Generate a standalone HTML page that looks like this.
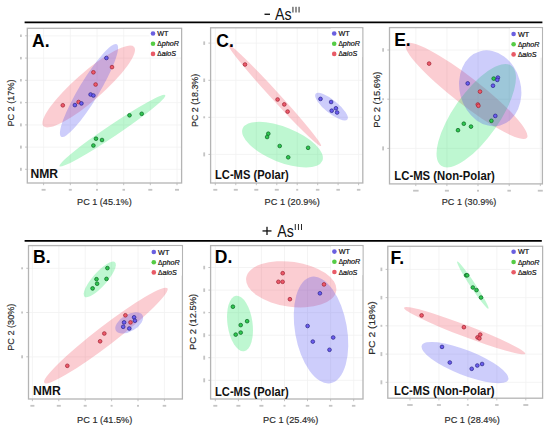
<!DOCTYPE html>
<html><head><meta charset="utf-8"><style>
html,body{margin:0;padding:0;background:#fff;width:550px;height:431px;overflow:hidden}
svg{display:block}
text{font-family:"Liberation Sans",sans-serif}
.lab{font-weight:bold;font-size:17.5px;fill:#000}
.foot{font-weight:bold;font-size:11.9px;fill:#111}
.leg{font-size:7.2px;fill:#111;stroke:#111;stroke-width:0.2px}
.ax{font-size:9.9px;fill:#2a2a2a;stroke:#2a2a2a;stroke-width:0.18px}
.hd{font-size:16.2px;fill:#111}
.sup{font-size:8px}
</style></head><body>
<svg width="550" height="431" viewBox="0 0 550 431">
<path d="M24.6 22.35H542.4M24.6 240.9H541.8" stroke="#000" stroke-width="1.65" fill="none"/>
<rect x="264.5" y="13.6" width="5.5" height="1.35" fill="#111"/>
<text x="275.0" y="19.7" class="hd" textLength="16.6" lengthAdjust="spacingAndGlyphs">As</text>
<rect x="292.50" y="6.8" width="0.9" height="5.70" fill="#111"/><rect x="295.55" y="6.8" width="0.9" height="5.70" fill="#111"/><rect x="298.60" y="6.8" width="0.9" height="5.70" fill="#111"/>
<rect x="262.5" y="230.3" width="9" height="1.3" fill="#111"/><rect x="266.35" y="226.8" width="1.3" height="8.2" fill="#111"/>
<text x="277.2" y="236.7" class="hd" textLength="16.6" lengthAdjust="spacingAndGlyphs">As</text>
<rect x="294.80" y="224" width="0.9" height="6.00" fill="#111"/><rect x="297.95" y="224" width="0.9" height="6.00" fill="#111"/><rect x="301.10" y="224" width="0.9" height="6.00" fill="#111"/>
<clipPath id="clipA"><rect x="27.3" y="28.3" width="154.30" height="154.70"/></clipPath>
<rect x="27.3" y="28.3" width="154.30" height="154.70" fill="#fff"/>
<path d="M43.6 28.3V183.0M70.3 28.3V183.0M97.0 28.3V183.0M123.7 28.3V183.0M150.3 28.3V183.0M177.0 28.3V183.0M27.3 35.8H181.6M27.3 58.1H181.6M27.3 80.3H181.6M27.3 102.6H181.6M27.3 124.9H181.6M27.3 147.1H181.6M27.3 169.3H181.6" stroke="#f1f1f1" stroke-width="0.8" fill="none"/>
<path d="M43.6 183.0v2.2M70.3 183.0v2.2M97.0 183.0v2.2M123.7 183.0v2.2M150.3 183.0v2.2M177.0 183.0v2.2M27.3 35.8h-2.2M27.3 58.1h-2.2M27.3 80.3h-2.2M27.3 102.6h-2.2M27.3 124.9h-2.2M27.3 147.1h-2.2M27.3 169.3h-2.2" stroke="#999" stroke-width="0.6" fill="none"/>
<rect x="41.6" y="188.9" width="4" height="1.8" fill="#c4c4c4"/>
<rect x="68.8" y="188.9" width="3" height="1.8" fill="#c4c4c4"/>
<rect x="96.0" y="188.9" width="2" height="1.8" fill="#c4c4c4"/>
<rect x="122.5" y="188.9" width="2.5" height="1.8" fill="#c4c4c4"/>
<rect x="148.3" y="188.9" width="4" height="1.8" fill="#c4c4c4"/>
<rect x="175.0" y="188.9" width="4" height="1.8" fill="#c4c4c4"/>
<rect x="20.0" y="34.5" width="1.8" height="2.5" fill="#c4c4c4"/>
<rect x="20.0" y="56.9" width="1.8" height="2.5" fill="#c4c4c4"/>
<rect x="20.0" y="79.0" width="1.8" height="2.5" fill="#c4c4c4"/>
<rect x="20.0" y="101.6" width="1.8" height="2" fill="#c4c4c4"/>
<rect x="20.0" y="123.4" width="1.8" height="3" fill="#c4c4c4"/>
<rect x="20.0" y="145.6" width="1.8" height="3" fill="#c4c4c4"/>
<rect x="20.0" y="167.8" width="1.8" height="3" fill="#c4c4c4"/>
<g clip-path="url(#clipA)">
<ellipse cx="88.7" cy="86.5" rx="60.2" ry="14" transform="rotate(-41.1 88.7 86.5)" fill="rgb(240,60,80)" fill-opacity="0.26"/>
<ellipse cx="112.4" cy="130.7" rx="63.7" ry="5.8" transform="rotate(-33.9 112.4 130.7)" fill="rgb(20,228,88)" fill-opacity="0.28"/>
<ellipse cx="89" cy="90.5" rx="54" ry="10" transform="rotate(-59 89 90.5)" fill="rgb(60,60,240)" fill-opacity="0.26"/>
<circle cx="106.4" cy="58.0" r="1.85" fill="#6b5cf0" stroke="#2d2a8a" stroke-width="0.75"/>
<circle cx="112.0" cy="67.1" r="1.85" fill="#ee5a6a" stroke="#a02838" stroke-width="0.75"/>
<circle cx="93.4" cy="72.3" r="1.85" fill="#ee5a6a" stroke="#a02838" stroke-width="0.75"/>
<circle cx="95.6" cy="84.5" r="1.85" fill="#ee5a6a" stroke="#a02838" stroke-width="0.75"/>
<circle cx="90.6" cy="94.5" r="1.85" fill="#6b5cf0" stroke="#2d2a8a" stroke-width="0.75"/>
<circle cx="93.4" cy="95.5" r="1.85" fill="#6b5cf0" stroke="#2d2a8a" stroke-width="0.75"/>
<circle cx="78.6" cy="102" r="1.85" fill="#ee5a6a" stroke="#a02838" stroke-width="0.75"/>
<circle cx="81.4" cy="103.4" r="1.85" fill="#6b5cf0" stroke="#2d2a8a" stroke-width="0.75"/>
<circle cx="74.9" cy="105.1" r="1.85" fill="#6b5cf0" stroke="#2d2a8a" stroke-width="0.75"/>
<circle cx="62.8" cy="105.3" r="1.85" fill="#ee5a6a" stroke="#a02838" stroke-width="0.75"/>
<circle cx="129.5" cy="115.3" r="1.85" fill="#2ec850" stroke="#106a28" stroke-width="0.75"/>
<circle cx="141.7" cy="113.8" r="1.85" fill="#2ec850" stroke="#106a28" stroke-width="0.75"/>
<circle cx="96.0" cy="138.7" r="1.85" fill="#2ec850" stroke="#106a28" stroke-width="0.75"/>
<circle cx="102.0" cy="140.0" r="1.85" fill="#2ec850" stroke="#106a28" stroke-width="0.75"/>
<circle cx="93.4" cy="145.5" r="1.85" fill="#2ec850" stroke="#106a28" stroke-width="0.75"/>
</g>
<rect x="27.3" y="28.3" width="154.30" height="154.70" fill="none" stroke="#b4b4b4" stroke-width="1.3"/>
<text x="32.0" y="47.3" class="lab">A.</text>
<text x="30.4" y="178.3" class="foot" textLength="27.6" lengthAdjust="spacingAndGlyphs">NMR</text>
<rect x="149.5" y="28.9" width="31.5" height="28.2" fill="#fff"/>
<circle cx="153.0" cy="33.5" r="2.3" fill="#6a5fe0"/>
<text x="157.3" y="36.0" class="leg">WT</text>
<circle cx="153.0" cy="43.7" r="2.3" fill="#55cc44"/>
<text x="157.3" y="46.2" class="leg"><tspan font-size="6.5">&#916;</tspan><tspan font-style="italic">phoR</tspan></text>
<circle cx="153.0" cy="53.9" r="2.3" fill="#e85a66"/>
<text x="157.3" y="56.4" class="leg"><tspan font-size="6.5">&#916;</tspan><tspan font-style="italic">aioS</tspan></text>
<text x="77.10000000000001" y="205.3" class="ax" textLength="54.6" lengthAdjust="spacingAndGlyphs">PC 1 (45.1%)</text>
<text transform="translate(13.7 126.6) rotate(-90)" class="ax" textLength="47.2" lengthAdjust="spacingAndGlyphs">PC 2 (17%)</text>
<clipPath id="clipC"><rect x="210.6" y="27.8" width="152.20" height="155.20"/></clipPath>
<rect x="210.6" y="27.8" width="152.20" height="155.20" fill="#fff"/>
<path d="M215.3 27.8V183.0M235.8 27.8V183.0M256.3 27.8V183.0M276.8 27.8V183.0M297.2 27.8V183.0M317.7 27.8V183.0M338.1 27.8V183.0M358.6 27.8V183.0M210.6 43.1H362.8M210.6 80.3H362.8M210.6 117.3H362.8M210.6 154.4H362.8" stroke="#f1f1f1" stroke-width="0.8" fill="none"/>
<path d="M215.3 183.0v2.2M235.8 183.0v2.2M256.3 183.0v2.2M276.8 183.0v2.2M297.2 183.0v2.2M317.7 183.0v2.2M338.1 183.0v2.2M358.6 183.0v2.2M210.6 43.1h-2.2M210.6 80.3h-2.2M210.6 117.3h-2.2M210.6 154.4h-2.2" stroke="#999" stroke-width="0.6" fill="none"/>
<rect x="213.3" y="188.9" width="4" height="1.8" fill="#c4c4c4"/>
<rect x="233.8" y="188.9" width="4" height="1.8" fill="#c4c4c4"/>
<rect x="254.3" y="188.9" width="4" height="1.8" fill="#c4c4c4"/>
<rect x="274.8" y="188.9" width="4" height="1.8" fill="#c4c4c4"/>
<rect x="296.2" y="188.9" width="2" height="1.8" fill="#c4c4c4"/>
<rect x="315.9" y="188.9" width="3.5" height="1.8" fill="#c4c4c4"/>
<rect x="336.4" y="188.9" width="3.5" height="1.8" fill="#c4c4c4"/>
<rect x="356.9" y="188.9" width="3.5" height="1.8" fill="#c4c4c4"/>
<rect x="203.3" y="41.4" width="1.8" height="3.5" fill="#c4c4c4"/>
<rect x="203.3" y="78.5" width="1.8" height="3.5" fill="#c4c4c4"/>
<rect x="203.3" y="116.3" width="1.8" height="2" fill="#c4c4c4"/>
<rect x="203.3" y="152.4" width="1.8" height="4" fill="#c4c4c4"/>
<g clip-path="url(#clipC)">
<ellipse cx="274.75" cy="95.5" rx="68.5" ry="4.2" transform="rotate(47.5 274.75 95.5)" fill="rgb(240,60,80)" fill-opacity="0.26"/>
<ellipse cx="282.5" cy="144.7" rx="43" ry="17.5" transform="rotate(22 282.5 144.7)" fill="rgb(20,228,88)" fill-opacity="0.28"/>
<ellipse cx="331.5" cy="106.7" rx="20.4" ry="6.5" transform="rotate(39 331.5 106.7)" fill="rgb(60,60,240)" fill-opacity="0.26"/>
<circle cx="245.0" cy="64.5" r="1.85" fill="#ee5a6a" stroke="#a02838" stroke-width="0.75"/>
<circle cx="277.6" cy="99.5" r="1.85" fill="#ee5a6a" stroke="#a02838" stroke-width="0.75"/>
<circle cx="284.3" cy="104.4" r="1.85" fill="#ee5a6a" stroke="#a02838" stroke-width="0.75"/>
<circle cx="287.6" cy="111.6" r="1.85" fill="#ee5a6a" stroke="#a02838" stroke-width="0.75"/>
<circle cx="320.5" cy="98.9" r="1.85" fill="#6b5cf0" stroke="#2d2a8a" stroke-width="0.75"/>
<circle cx="331.1" cy="102" r="1.85" fill="#6b5cf0" stroke="#2d2a8a" stroke-width="0.75"/>
<circle cx="335.9" cy="108.3" r="1.85" fill="#6b5cf0" stroke="#2d2a8a" stroke-width="0.75"/>
<circle cx="331.7" cy="110.7" r="1.85" fill="#6b5cf0" stroke="#2d2a8a" stroke-width="0.75"/>
<circle cx="337.1" cy="112.5" r="1.85" fill="#6b5cf0" stroke="#2d2a8a" stroke-width="0.75"/>
<circle cx="268.3" cy="133.7" r="1.85" fill="#2ec850" stroke="#106a28" stroke-width="0.75"/>
<circle cx="267.1" cy="137" r="1.85" fill="#2ec850" stroke="#106a28" stroke-width="0.75"/>
<circle cx="279.7" cy="146" r="1.85" fill="#2ec850" stroke="#106a28" stroke-width="0.75"/>
<circle cx="308.1" cy="147.8" r="1.85" fill="#2ec850" stroke="#106a28" stroke-width="0.75"/>
<circle cx="288.2" cy="157.3" r="1.85" fill="#2ec850" stroke="#106a28" stroke-width="0.75"/>
</g>
<rect x="210.6" y="27.8" width="152.20" height="155.20" fill="none" stroke="#b4b4b4" stroke-width="1.3"/>
<text x="216.3" y="46.9" class="lab">C.</text>
<text x="215.0" y="178.8" class="foot" textLength="73.8" lengthAdjust="spacingAndGlyphs">LC-MS (Polar)</text>
<rect x="330.7" y="28.4" width="31.5" height="28.7" fill="#fff"/>
<circle cx="334.2" cy="33.5" r="2.3" fill="#6a5fe0"/>
<text x="338.5" y="36.0" class="leg">WT</text>
<circle cx="334.2" cy="43.7" r="2.3" fill="#55cc44"/>
<text x="338.5" y="46.2" class="leg"><tspan font-size="6.5">&#916;</tspan><tspan font-style="italic">phoR</tspan></text>
<circle cx="334.2" cy="53.9" r="2.3" fill="#e85a66"/>
<text x="338.5" y="56.4" class="leg"><tspan font-size="6.5">&#916;</tspan><tspan font-style="italic">aioS</tspan></text>
<text x="264.59999999999997" y="205.3" class="ax" textLength="55.1" lengthAdjust="spacingAndGlyphs">PC 1 (20.9%)</text>
<text transform="translate(197.5 127.0) rotate(-90)" class="ax" textLength="53.2" lengthAdjust="spacingAndGlyphs">PC 2 (18.3%)</text>
<clipPath id="clipE"><rect x="389.5" y="27.6" width="152.90" height="156.30"/></clipPath>
<rect x="389.5" y="27.6" width="152.90" height="156.30" fill="#fff"/>
<path d="M415.8 27.6V183.9M446.9 27.6V183.9M478.0 27.6V183.9M509.2 27.6V183.9M540.3 27.6V183.9M389.5 50.0H542.4M389.5 99.2H542.4M389.5 148.4H542.4" stroke="#f1f1f1" stroke-width="0.8" fill="none"/>
<path d="M415.8 183.9v2.2M446.9 183.9v2.2M478.0 183.9v2.2M509.2 183.9v2.2M540.3 183.9v2.2M389.5 50.0h-2.2M389.5 99.2h-2.2M389.5 148.4h-2.2" stroke="#999" stroke-width="0.6" fill="none"/>
<rect x="413.1" y="189.8" width="5.5" height="1.8" fill="#c4c4c4"/>
<rect x="444.9" y="189.8" width="4" height="1.8" fill="#c4c4c4"/>
<rect x="477.0" y="189.8" width="2" height="1.8" fill="#c4c4c4"/>
<rect x="507.4" y="189.8" width="3.5" height="1.8" fill="#c4c4c4"/>
<rect x="537.8" y="189.8" width="5" height="1.8" fill="#c4c4c4"/>
<rect x="382.2" y="48.2" width="1.8" height="3.5" fill="#c4c4c4"/>
<rect x="382.2" y="98.2" width="1.8" height="2" fill="#c4c4c4"/>
<rect x="382.2" y="146.4" width="1.8" height="4" fill="#c4c4c4"/>
<g clip-path="url(#clipE)">
<ellipse cx="466.5" cy="90.9" rx="76.5" ry="13.5" transform="rotate(37.8 466.5 90.9)" fill="rgb(240,60,80)" fill-opacity="0.26"/>
<ellipse cx="476.25" cy="115.7" rx="22.8" ry="61.1" transform="rotate(35 476.25 115.7)" fill="rgb(20,228,88)" fill-opacity="0.28"/>
<ellipse cx="490.2" cy="88.3" rx="30.6" ry="38.4" transform="rotate(-15 490.2 88.3)" fill="rgb(60,60,240)" fill-opacity="0.26"/>
<circle cx="429.1" cy="63.6" r="1.85" fill="#ee5a6a" stroke="#a02838" stroke-width="0.75"/>
<circle cx="467.7" cy="83.4" r="1.85" fill="#6b5cf0" stroke="#2d2a8a" stroke-width="0.75"/>
<circle cx="493.7" cy="78.6" r="1.85" fill="#2ec850" stroke="#106a28" stroke-width="0.75"/>
<circle cx="497.9" cy="77.6" r="1.85" fill="#6b5cf0" stroke="#2d2a8a" stroke-width="0.75"/>
<circle cx="497.3" cy="79.9" r="1.85" fill="#6b5cf0" stroke="#2d2a8a" stroke-width="0.75"/>
<circle cx="493" cy="85.7" r="1.85" fill="#6b5cf0" stroke="#2d2a8a" stroke-width="0.75"/>
<circle cx="480" cy="91.6" r="1.85" fill="#ee5a6a" stroke="#a02838" stroke-width="0.75"/>
<circle cx="477.8" cy="104.5" r="1.85" fill="#ee5a6a" stroke="#a02838" stroke-width="0.75"/>
<circle cx="478.4" cy="105.8" r="1.85" fill="#ee5a6a" stroke="#a02838" stroke-width="0.75"/>
<circle cx="495.3" cy="115.9" r="1.85" fill="#6b5cf0" stroke="#2d2a8a" stroke-width="0.75"/>
<circle cx="491.4" cy="120.8" r="1.85" fill="#2ec850" stroke="#106a28" stroke-width="0.75"/>
<circle cx="463.8" cy="123.7" r="1.85" fill="#2ec850" stroke="#106a28" stroke-width="0.75"/>
<circle cx="471" cy="126.6" r="1.85" fill="#2ec850" stroke="#106a28" stroke-width="0.75"/>
<circle cx="458" cy="130.2" r="1.85" fill="#2ec850" stroke="#106a28" stroke-width="0.75"/>
</g>
<rect x="389.5" y="27.6" width="152.90" height="156.30" fill="none" stroke="#b4b4b4" stroke-width="1.3"/>
<text x="394.2" y="45.6" class="lab">E.</text>
<text x="394.3" y="179.6" class="foot" textLength="100.6" lengthAdjust="spacingAndGlyphs">LC-MS (Non-Polar)</text>
<rect x="510.1" y="28.2" width="31.7" height="29.4" fill="#fff"/>
<circle cx="513.6" cy="34.0" r="2.3" fill="#6a5fe0"/>
<text x="517.9" y="36.5" class="leg">WT</text>
<circle cx="513.6" cy="44.2" r="2.3" fill="#55cc44"/>
<text x="517.9" y="46.7" class="leg"><tspan font-size="6.5">&#916;</tspan><tspan font-style="italic">phoR</tspan></text>
<circle cx="513.6" cy="54.4" r="2.3" fill="#e85a66"/>
<text x="517.9" y="56.9" class="leg"><tspan font-size="6.5">&#916;</tspan><tspan font-style="italic">aioS</tspan></text>
<text x="441.8" y="205.3" class="ax" textLength="54.6" lengthAdjust="spacingAndGlyphs">PC 1 (30.9%)</text>
<text transform="translate(379.7 127.8) rotate(-90)" class="ax" textLength="56.2" lengthAdjust="spacingAndGlyphs">PC 2 (15.6%)</text>
<clipPath id="clipB"><rect x="28.5" y="245.6" width="153.90" height="153.40"/></clipPath>
<rect x="28.5" y="245.6" width="153.90" height="153.40" fill="#fff"/>
<path d="M32.4 245.6V399.0M58.8 245.6V399.0M85.2 245.6V399.0M111.6 245.6V399.0M138.0 245.6V399.0M164.4 245.6V399.0M28.5 268.3H182.4M28.5 312.5H182.4M28.5 356.8H182.4" stroke="#f1f1f1" stroke-width="0.8" fill="none"/>
<path d="M32.4 399.0v2.2M58.8 399.0v2.2M85.2 399.0v2.2M111.6 399.0v2.2M138.0 399.0v2.2M164.4 399.0v2.2M28.5 268.3h-2.2M28.5 312.5h-2.2M28.5 356.8h-2.2" stroke="#999" stroke-width="0.6" fill="none"/>
<rect x="30.4" y="404.9" width="4" height="1.8" fill="#c4c4c4"/>
<rect x="56.8" y="404.9" width="4" height="1.8" fill="#c4c4c4"/>
<rect x="83.7" y="404.9" width="3" height="1.8" fill="#c4c4c4"/>
<rect x="110.6" y="404.9" width="2" height="1.8" fill="#c4c4c4"/>
<rect x="137.0" y="404.9" width="2" height="1.8" fill="#c4c4c4"/>
<rect x="162.7" y="404.9" width="3.5" height="1.8" fill="#c4c4c4"/>
<rect x="21.2" y="267.3" width="1.8" height="2" fill="#c4c4c4"/>
<rect x="21.2" y="311.5" width="1.8" height="2" fill="#c4c4c4"/>
<rect x="21.2" y="355.3" width="1.8" height="3" fill="#c4c4c4"/>
<g clip-path="url(#clipB)">
<ellipse cx="99.8" cy="279.4" rx="23" ry="7" transform="rotate(-48.6 99.8 279.4)" fill="rgb(20,228,88)" fill-opacity="0.28"/>
<ellipse cx="105.9" cy="335.6" rx="77.6" ry="9.5" transform="rotate(-37.5 105.9 335.6)" fill="rgb(240,60,80)" fill-opacity="0.26"/>
<ellipse cx="129.2" cy="322.9" rx="15.4" ry="8.4" transform="rotate(-31 129.2 322.9)" fill="rgb(60,60,240)" fill-opacity="0.26"/>
<circle cx="107.4" cy="268.1" r="1.85" fill="#2ec850" stroke="#106a28" stroke-width="0.75"/>
<circle cx="96.5" cy="279.2" r="1.85" fill="#2ec850" stroke="#106a28" stroke-width="0.75"/>
<circle cx="106.5" cy="278.9" r="1.85" fill="#2ec850" stroke="#106a28" stroke-width="0.75"/>
<circle cx="97.1" cy="283.7" r="1.85" fill="#2ec850" stroke="#106a28" stroke-width="0.75"/>
<circle cx="92.6" cy="288.4" r="1.85" fill="#2ec850" stroke="#106a28" stroke-width="0.75"/>
<circle cx="134.1" cy="317.3" r="1.85" fill="#6b5cf0" stroke="#2d2a8a" stroke-width="0.75"/>
<circle cx="134.9" cy="320.7" r="1.85" fill="#6b5cf0" stroke="#2d2a8a" stroke-width="0.75"/>
<circle cx="124.1" cy="322.4" r="1.85" fill="#6b5cf0" stroke="#2d2a8a" stroke-width="0.75"/>
<circle cx="123.2" cy="326.8" r="1.85" fill="#6b5cf0" stroke="#2d2a8a" stroke-width="0.75"/>
<circle cx="129.3" cy="328.5" r="1.85" fill="#6b5cf0" stroke="#2d2a8a" stroke-width="0.75"/>
<circle cx="125.4" cy="315.3" r="1.85" fill="#ee5a6a" stroke="#a02838" stroke-width="0.75"/>
<circle cx="130.5" cy="322.4" r="1.85" fill="#ee5a6a" stroke="#a02838" stroke-width="0.75"/>
<circle cx="104.3" cy="333.5" r="1.85" fill="#ee5a6a" stroke="#a02838" stroke-width="0.75"/>
<circle cx="100.1" cy="341.3" r="1.85" fill="#ee5a6a" stroke="#a02838" stroke-width="0.75"/>
<circle cx="67.3" cy="365.8" r="1.85" fill="#ee5a6a" stroke="#a02838" stroke-width="0.75"/>
</g>
<rect x="28.5" y="245.6" width="153.90" height="153.40" fill="none" stroke="#b4b4b4" stroke-width="1.3"/>
<text x="33.1" y="263.4" class="lab">B.</text>
<text x="33.0" y="394.6" class="foot" textLength="27.8" lengthAdjust="spacingAndGlyphs">NMR</text>
<rect x="150.3" y="246.2" width="31.5" height="29.4" fill="#fff"/>
<circle cx="153.8" cy="252.0" r="2.3" fill="#6a5fe0"/>
<text x="158.10000000000002" y="254.5" class="leg">WT</text>
<circle cx="153.8" cy="262.2" r="2.3" fill="#55cc44"/>
<text x="158.10000000000002" y="264.7" class="leg"><tspan font-size="6.5">&#916;</tspan><tspan font-style="italic">phoR</tspan></text>
<circle cx="153.8" cy="272.4" r="2.3" fill="#e85a66"/>
<text x="158.10000000000002" y="274.9" class="leg"><tspan font-size="6.5">&#916;</tspan><tspan font-style="italic">aioS</tspan></text>
<text x="77.0" y="423.0" class="ax" textLength="55.4" lengthAdjust="spacingAndGlyphs">PC 1 (41.5%)</text>
<text transform="translate(13.7 350.8) rotate(-90)" class="ax" textLength="47.2" lengthAdjust="spacingAndGlyphs">PC 2 (30%)</text>
<clipPath id="clipD"><rect x="210.6" y="245.6" width="152.40" height="153.40"/></clipPath>
<rect x="210.6" y="245.6" width="152.40" height="153.40" fill="#fff"/>
<path d="M215.3 245.6V399.0M238.4 245.6V399.0M261.4 245.6V399.0M284.5 245.6V399.0M307.5 245.6V399.0M330.6 245.6V399.0M353.7 245.6V399.0M210.6 267.5H363.0M210.6 290.1H363.0M210.6 312.6H363.0M210.6 335.2H363.0M210.6 357.7H363.0M210.6 380.3H363.0" stroke="#f1f1f1" stroke-width="0.8" fill="none"/>
<path d="M215.3 399.0v2.2M238.4 399.0v2.2M261.4 399.0v2.2M284.5 399.0v2.2M307.5 399.0v2.2M330.6 399.0v2.2M353.7 399.0v2.2M210.6 267.5h-2.2M210.6 290.1h-2.2M210.6 312.6h-2.2M210.6 335.2h-2.2M210.6 357.7h-2.2M210.6 380.3h-2.2" stroke="#999" stroke-width="0.6" fill="none"/>
<rect x="213.3" y="404.9" width="4" height="1.8" fill="#c4c4c4"/>
<rect x="236.4" y="404.9" width="4" height="1.8" fill="#c4c4c4"/>
<rect x="259.4" y="404.9" width="4" height="1.8" fill="#c4c4c4"/>
<rect x="283.5" y="404.9" width="2" height="1.8" fill="#c4c4c4"/>
<rect x="305.8" y="404.9" width="3.5" height="1.8" fill="#c4c4c4"/>
<rect x="328.9" y="404.9" width="3.5" height="1.8" fill="#c4c4c4"/>
<rect x="351.9" y="404.9" width="3.5" height="1.8" fill="#c4c4c4"/>
<rect x="203.3" y="265.8" width="1.8" height="3.5" fill="#c4c4c4"/>
<rect x="203.3" y="288.4" width="1.8" height="3.5" fill="#c4c4c4"/>
<rect x="203.3" y="311.6" width="1.8" height="2" fill="#c4c4c4"/>
<rect x="203.3" y="333.2" width="1.8" height="4" fill="#c4c4c4"/>
<rect x="203.3" y="355.7" width="1.8" height="4" fill="#c4c4c4"/>
<rect x="203.3" y="378.3" width="1.8" height="4" fill="#c4c4c4"/>
<g clip-path="url(#clipD)">
<ellipse cx="291.2" cy="284.3" rx="45.5" ry="22.5" transform="rotate(8 291.2 284.3)" fill="rgb(240,60,80)" fill-opacity="0.26"/>
<ellipse cx="240" cy="323.5" rx="12.5" ry="28" transform="rotate(-8 240 323.5)" fill="rgb(20,228,88)" fill-opacity="0.28"/>
<ellipse cx="321" cy="330" rx="26" ry="54" transform="rotate(-10 321 330)" fill="rgb(60,60,240)" fill-opacity="0.26"/>
<circle cx="282.7" cy="273.2" r="1.85" fill="#ee5a6a" stroke="#a02838" stroke-width="0.75"/>
<circle cx="278.4" cy="281.8" r="1.85" fill="#ee5a6a" stroke="#a02838" stroke-width="0.75"/>
<circle cx="282.6" cy="281.8" r="1.85" fill="#ee5a6a" stroke="#a02838" stroke-width="0.75"/>
<circle cx="289.9" cy="299.2" r="1.85" fill="#ee5a6a" stroke="#a02838" stroke-width="0.75"/>
<circle cx="324" cy="284.4" r="1.85" fill="#ee5a6a" stroke="#a02838" stroke-width="0.75"/>
<circle cx="319.9" cy="293.3" r="1.85" fill="#6b5cf0" stroke="#2d2a8a" stroke-width="0.75"/>
<circle cx="307.6" cy="326" r="1.85" fill="#6b5cf0" stroke="#2d2a8a" stroke-width="0.75"/>
<circle cx="333.2" cy="337.5" r="1.85" fill="#6b5cf0" stroke="#2d2a8a" stroke-width="0.75"/>
<circle cx="312.8" cy="341.6" r="1.85" fill="#6b5cf0" stroke="#2d2a8a" stroke-width="0.75"/>
<circle cx="329.5" cy="349.8" r="1.85" fill="#6b5cf0" stroke="#2d2a8a" stroke-width="0.75"/>
<circle cx="232.9" cy="306.7" r="1.85" fill="#2ec850" stroke="#106a28" stroke-width="0.75"/>
<circle cx="247.1" cy="321.2" r="1.85" fill="#2ec850" stroke="#106a28" stroke-width="0.75"/>
<circle cx="240.7" cy="325.1" r="1.85" fill="#2ec850" stroke="#106a28" stroke-width="0.75"/>
<circle cx="240.7" cy="332.6" r="1.85" fill="#2ec850" stroke="#106a28" stroke-width="0.75"/>
<circle cx="235.7" cy="334.6" r="1.85" fill="#2ec850" stroke="#106a28" stroke-width="0.75"/>
</g>
<rect x="210.6" y="245.6" width="152.40" height="153.40" fill="none" stroke="#b4b4b4" stroke-width="1.3"/>
<text x="214.8" y="263.4" class="lab">D.</text>
<text x="215.0" y="396.0" class="foot" textLength="73.8" lengthAdjust="spacingAndGlyphs">LC-MS (Polar)</text>
<rect x="330.9" y="246.2" width="31.5" height="29.0" fill="#fff"/>
<circle cx="334.4" cy="251.6" r="2.3" fill="#6a5fe0"/>
<text x="338.7" y="254.1" class="leg">WT</text>
<circle cx="334.4" cy="261.8" r="2.3" fill="#55cc44"/>
<text x="338.7" y="264.3" class="leg"><tspan font-size="6.5">&#916;</tspan><tspan font-style="italic">phoR</tspan></text>
<circle cx="334.4" cy="272.0" r="2.3" fill="#e85a66"/>
<text x="338.7" y="274.5" class="leg"><tspan font-size="6.5">&#916;</tspan><tspan font-style="italic">aioS</tspan></text>
<text x="263.09999999999997" y="423.0" class="ax" textLength="55.2" lengthAdjust="spacingAndGlyphs">PC 1 (25.4%)</text>
<text transform="translate(196.4 349.90000000000003) rotate(-90)" class="ax" textLength="56.1" lengthAdjust="spacingAndGlyphs">PC 2 (12.5%)</text>
<clipPath id="clipF"><rect x="387.8" y="246.3" width="154.80" height="151.90"/></clipPath>
<rect x="387.8" y="246.3" width="154.80" height="151.90" fill="#fff"/>
<path d="M410.0 246.3V398.2M438.9 246.3V398.2M467.8 246.3V398.2M496.8 246.3V398.2M525.8 246.3V398.2M387.8 269.4H542.6M387.8 297.6H542.6M387.8 325.8H542.6M387.8 354.1H542.6M387.8 382.3H542.6" stroke="#f1f1f1" stroke-width="0.8" fill="none"/>
<path d="M410.0 398.2v2.2M438.9 398.2v2.2M467.8 398.2v2.2M496.8 398.2v2.2M525.8 398.2v2.2M387.8 269.4h-2.2M387.8 297.6h-2.2M387.8 325.8h-2.2M387.8 354.1h-2.2M387.8 382.3h-2.2" stroke="#999" stroke-width="0.6" fill="none"/>
<rect x="407.2" y="404.1" width="5.5" height="1.8" fill="#c4c4c4"/>
<rect x="436.9" y="404.1" width="4" height="1.8" fill="#c4c4c4"/>
<rect x="466.8" y="404.1" width="2" height="1.8" fill="#c4c4c4"/>
<rect x="495.1" y="404.1" width="3.5" height="1.8" fill="#c4c4c4"/>
<rect x="523.3" y="404.1" width="5" height="1.8" fill="#c4c4c4"/>
<rect x="380.5" y="267.6" width="1.8" height="3.5" fill="#c4c4c4"/>
<rect x="380.5" y="295.9" width="1.8" height="3.5" fill="#c4c4c4"/>
<rect x="380.5" y="324.8" width="1.8" height="2" fill="#c4c4c4"/>
<rect x="380.5" y="352.1" width="1.8" height="4" fill="#c4c4c4"/>
<rect x="380.5" y="380.3" width="1.8" height="4" fill="#c4c4c4"/>
<g clip-path="url(#clipF)">
<ellipse cx="472.8" cy="285.1" rx="28.3" ry="2.6" transform="rotate(56.5 472.8 285.1)" fill="rgb(20,228,88)" fill-opacity="0.28"/>
<ellipse cx="464.7" cy="330.7" rx="64.8" ry="5.8" transform="rotate(20.8 464.7 330.7)" fill="rgb(240,60,80)" fill-opacity="0.26"/>
<ellipse cx="465" cy="362.6" rx="46.5" ry="12.4" transform="rotate(21.6 465 362.6)" fill="rgb(60,60,240)" fill-opacity="0.26"/>
<circle cx="466.1" cy="275.3" r="1.85" fill="#2ec850" stroke="#106a28" stroke-width="0.75"/>
<circle cx="467.2" cy="275.3" r="1.85" fill="#2ec850" stroke="#106a28" stroke-width="0.75"/>
<circle cx="472.8" cy="287.5" r="1.85" fill="#2ec850" stroke="#106a28" stroke-width="0.75"/>
<circle cx="476.5" cy="290.1" r="1.85" fill="#2ec850" stroke="#106a28" stroke-width="0.75"/>
<circle cx="481" cy="297.5" r="1.85" fill="#2ec850" stroke="#106a28" stroke-width="0.75"/>
<circle cx="421.6" cy="315.4" r="1.85" fill="#ee5a6a" stroke="#a02838" stroke-width="0.75"/>
<circle cx="463.9" cy="327.2" r="1.85" fill="#ee5a6a" stroke="#a02838" stroke-width="0.75"/>
<circle cx="480.2" cy="334.6" r="1.85" fill="#ee5a6a" stroke="#a02838" stroke-width="0.75"/>
<circle cx="477.5" cy="337.4" r="1.85" fill="#ee5a6a" stroke="#a02838" stroke-width="0.75"/>
<circle cx="479.4" cy="338.4" r="1.85" fill="#ee5a6a" stroke="#a02838" stroke-width="0.75"/>
<circle cx="442" cy="346.9" r="1.85" fill="#6b5cf0" stroke="#2d2a8a" stroke-width="0.75"/>
<circle cx="449.8" cy="362.5" r="1.85" fill="#6b5cf0" stroke="#2d2a8a" stroke-width="0.75"/>
<circle cx="471.7" cy="368.8" r="1.85" fill="#6b5cf0" stroke="#2d2a8a" stroke-width="0.75"/>
<circle cx="477.3" cy="365.5" r="1.85" fill="#6b5cf0" stroke="#2d2a8a" stroke-width="0.75"/>
<circle cx="482.1" cy="364" r="1.85" fill="#6b5cf0" stroke="#2d2a8a" stroke-width="0.75"/>
</g>
<rect x="387.8" y="246.3" width="154.80" height="151.90" fill="none" stroke="#b4b4b4" stroke-width="1.3"/>
<text x="390.4" y="263.7" class="lab">F.</text>
<text x="394.0" y="394.8" class="foot" textLength="100.6" lengthAdjust="spacingAndGlyphs">LC-MS (Non-Polar)</text>
<rect x="510.1" y="246.9" width="31.9" height="28.5" fill="#fff"/>
<circle cx="513.6" cy="251.8" r="2.3" fill="#6a5fe0"/>
<text x="517.9" y="254.3" class="leg">WT</text>
<circle cx="513.6" cy="262.0" r="2.3" fill="#55cc44"/>
<text x="517.9" y="264.5" class="leg"><tspan font-size="6.5">&#916;</tspan><tspan font-style="italic">phoR</tspan></text>
<circle cx="513.6" cy="272.2" r="2.3" fill="#e85a66"/>
<text x="517.9" y="274.7" class="leg"><tspan font-size="6.5">&#916;</tspan><tspan font-style="italic">aioS</tspan></text>
<text x="444.5" y="423.0" class="ax" textLength="55.2" lengthAdjust="spacingAndGlyphs">PC 1 (28.4%)</text>
<text transform="translate(375.4 354.8) rotate(-90)" class="ax" textLength="53.5" lengthAdjust="spacingAndGlyphs">PC 2 (18%)</text>
</svg>
</body></html>
